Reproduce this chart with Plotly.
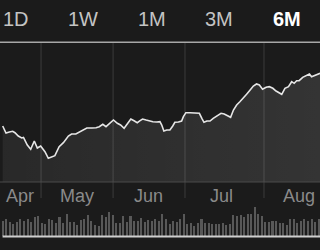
import plotly.graph_objects as go

# ---- data ----
tabs = ["1D", "1W", "1M", "3M", "6M"]
selected_tab = "6M"

months = ["Apr", "May", "Jun", "Jul", "Aug"]
month_label_pos = [4.9, 20.9, 41.2, 61.5, 83.5]      # session index of label centre
month_starts = [10.8, 31.1, 51.35, 73.6]             # session index of month boundaries

line_t = [0, 0.93, 1.86, 2.82, 3.46, 4.39, 5.35, 5.86, 6.93, 7.89, 8.9, 9.75, 10.7,
          11.9, 12.85, 13.8, 14.7, 15.9, 17.1, 18.5, 19.4, 20.6, 21.8, 22.7, 23.7,
          25.1, 26.3, 27.2, 28.2, 29.1, 30.0, 31.2, 32.3, 33.2, 34.2, 35.1, 36.1,
          37.0, 37.9, 38.7, 39.4, 40.4, 41.3, 42.3, 43.4, 44.3, 44.8, 45.4, 46.2,
          47.1, 47.9, 48.5, 49.5, 50.4, 50.9, 51.6, 52.8, 54.2, 55.4, 56.1, 56.7,
          57.5, 58.4, 59.3, 60.5, 61.5, 62.4, 63.4, 64.2, 65.0, 65.9, 66.8, 67.8,
          68.7, 69.7, 70.6, 71.5, 72.3, 73.2, 74.2, 75.1, 76.1, 77.0, 77.9, 78.6,
          79.5, 80.5, 81.4, 82.1, 82.8, 83.5, 84.5, 85.6, 86.4, 87.0, 88.0, 88.6, 89.4]
price = [56, 49, 50, 50.7, 49.3, 46, 44, 44.5, 37, 32.7, 41, 34, 36,
         30.3, 23.7, 25.3, 26.3, 35.3, 39.3, 46, 48, 48, 50.5, 52.7, 54,
         54, 54.3, 55.3, 57.7, 55.3, 58, 62, 58.7, 57, 53.7, 58.7, 63,
         61.3, 59.3, 61.3, 63, 62, 61, 60.3, 60, 60.3, 57, 51, 52,
         52, 56, 59.7, 60, 61, 65.3, 69.3, 69.3, 69.3, 68.7, 63.7, 59.7,
         61, 61, 63.7, 66.3, 68.7, 68, 66, 64.7, 72, 77, 80.3, 83.7,
         87.7, 92, 96, 98, 97, 92.7, 94.7, 95.3, 93.7, 91, 88.7, 87.7,
         93.7, 95.3, 100.3, 98.7, 101.3, 101.3, 104.7, 107, 108, 105.3, 107, 108, 108.7]

volume = [15, 16.7, 13.3, 11.7, 13.3, 16.7, 14.3, 16.7, 13.3, 18.3, 19.3, 12.7, 11.7,
          16.7, 15.7, 12.7, 18.3, 12.7, 21.7, 13.3, 13.3, 11, 15.7, 16.7, 20.3, 15,
          10.7, 9.3, 20.7, 18.3, 23.3, 20, 12.7, 12.7, 19.3, 13.3, 19.3, 15, 14.3,
          17.7, 13.3, 15.7, 15, 16.7,
          15, 21.7, 16.7, 11.7, 15, 13.3, 16.7, 21, 11.7, 12.7, 10, 12.7, 16.7, 12.7,
          12.7, 11.7, 11.7, 11.7, 12.7, 11, 11.7, 20, 19.3, 20, 18.3, 21.7, 21.7, 27.7,
          21, 19.3, 13.3, 13.3, 14.3, 14.3, 12.7, 12.7, 11, 16.7, 16.7, 12.7, 14.3,
          16.7, 14.3, 16.7, 13.3, 16]
sessions = list(range(len(volume)))

BG = "#1b1b1b"
font_family = "Liberation Sans, Arial, sans-serif"

fig = go.Figure()

fig.add_trace(go.Scatter(
    x=line_t, y=price, mode="lines",
    line=dict(color="#e6e6e6", width=1.6),
    fill="tozeroy",
    fillgradient=dict(type="horizontal",
                      colorscale=[[0, "rgba(255,255,255,0.06)"],
                                  [1, "rgba(255,255,255,0.11)"]]),
    hoverinfo="skip", xaxis="x", yaxis="y"))

fig.add_trace(go.Bar(
    x=sessions, y=volume, width=0.58,
    marker=dict(color="#585858", line=dict(width=0)),
    hoverinfo="skip", xaxis="x", yaxis="y2"))

xr = [-0.76, 89.38]
fig.update_layout(
    width=320, height=250,
    margin=dict(l=0, r=0, t=0, b=0),
    paper_bgcolor=BG, plot_bgcolor=BG,
    showlegend=False,
    bargap=0,
    xaxis=dict(range=xr, showgrid=False, zeroline=False, showticklabels=False,
               fixedrange=True, showline=False),
    yaxis=dict(domain=[0.272, 0.832], range=[0, 140], showgrid=False,
               zeroline=False, showticklabels=False, showline=False),
    yaxis2=dict(domain=[0.056, 0.18], range=[0, 30], showgrid=False,
                zeroline=False, showticklabels=False, showline=False),
)

shapes = []
for m in month_starts:
    shapes.append(dict(type="line", xref="x", yref="paper", x0=m, x1=m,
                       y0=0.208, y1=0.832, layer="below",
                       line=dict(color="#3c3c3c", width=1)))
# top separator
shapes.append(dict(type="line", xref="paper", yref="paper", x0=0, x1=1,
                   y0=0.831, y1=0.831, line=dict(color="#a8a8a8", width=1.5)))
# price baseline
shapes.append(dict(type="line", xref="paper", yref="paper", x0=0, x1=1,
                   y0=0.272, y1=0.272, line=dict(color="#4a4a4a", width=1)))
# volume baseline
shapes.append(dict(type="line", xref="paper", yref="paper", x0=0.008, x1=1,
                   y0=0.054, y1=0.054, line=dict(color="#cfcfcf", width=2)))
fig.update_layout(shapes=shapes)

ann = []
tab_x = [15.5, 82.5, 151.5, 218.7, 286.7]
for t, xp in zip(tabs, tab_x):
    sel = t == selected_tab
    ann.append(dict(text=("<b>%s</b>" % t) if sel else t,
                    xref="paper", yref="paper", x=xp / 320, y=1 - 19 / 250,
                    xanchor="center", yanchor="middle", showarrow=False,
                    font=dict(family=font_family, size=20,
                              color="#ffffff" if sel else "#c4c4c4")))
for mname, mx in zip(months, month_label_pos):
    ann.append(dict(text=mname, xref="x", yref="paper", x=mx, y=1 - 196 / 250,
                    xanchor="center", yanchor="middle", showarrow=False,
                    font=dict(family=font_family, size=18, color="#8a8a8a")))
fig.update_layout(annotations=ann)

fig.write_html("out.html")
